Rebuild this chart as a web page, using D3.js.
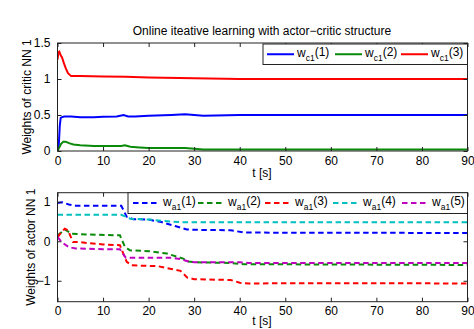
<!DOCTYPE html>
<html><head><meta charset="utf-8">
<script src="https://cdn.jsdelivr.net/npm/d3@7"></script>
<style>
body{margin:0;background:#fff;}
svg text{font-family:"Liberation Sans",Arial,Helvetica,sans-serif;fill:#000;}
</style></head>
<body>
<svg id="c" width="474" height="329"></svg>
<script>
// ---- data ----
const title = "Online iteative learning with actor\u2212critic structure";
const xTicks = [0,10,20,30,40,50,60,70,80,90];
const critTicks = [0,0.5,1,1.5];
const actTicks = [-1,0,1];

const wc1_1_t = [0,0.3,0.5,0.7,1.0,1.5,3,5,8,10,13,14.5,15.5,17,20,25,28,30,32,40,50,90];
const wc1_1_v = [0,0.1,0.35,0.46,0.47,0.48,0.48,0.47,0.47,0.475,0.48,0.5,0.48,0.48,0.49,0.5,0.51,0.5,0.49,0.5,0.5,0.5];
const wc1_2_t = [0,0.4,0.8,1.3,1.8,2.5,3.5,5,8,10,14,14.8,16,18,20,25,28,30,32,40,90];
const wc1_2_v = [0,0.05,0.1,0.13,0.13,0.11,0.09,0.08,0.07,0.07,0.07,0.08,0.06,0.05,0.04,0.04,0.04,0.03,0.02,0.02,0.02];
const wc1_3_t = [0,0.2,0.4,0.7,1.0,1.4,1.8,2.3,3,5,10,15,20,30,40,90];
const wc1_3_v = [1.27,1.37,1.38,1.33,1.3,1.22,1.15,1.08,1.04,1.04,1.035,1.03,1.02,1.01,1.0,1.0];

const wa1_1_t = [0,1,2.5,4,14,15.2,16.6,20,23,26,28.4,30,38,41,90];
const wa1_1_v = [0.97,0.99,0.93,0.9,0.9,0.62,0.56,0.55,0.48,0.38,0.3,0.29,0.28,0.22,0.21];
const wa1_2_t = [0,0.8,1.6,3.1,5,12.6,13.7,14.8,15.9,20,24,27.6,28.7,30,38,41,90];
const wa1_2_v = [0.15,0.22,0.3,0.19,0.18,0.15,0.15,-0.14,-0.23,-0.25,-0.31,-0.44,-0.51,-0.53,-0.55,-0.58,-0.6];
const wa1_3_t = [0,0.8,1.6,2.3,3.4,5,7,10,13.7,14.4,15.2,16.3,22,25,27,28.5,30,38,40,42,50,70,90];
const wa1_3_v = [0.1,0.22,0.32,0.28,-0.02,-0.02,-0.05,-0.08,-0.1,-0.3,-0.52,-0.61,-0.63,-0.7,-0.75,-0.92,-0.96,-0.98,-1.05,-1.07,-1.06,-1.06,-1.07];
const wa1_4_t = [0,14,16,20,23,25,28,30,90];
const wa1_4_v = [0.67,0.67,0.57,0.55,0.52,0.5,0.48,0.48,0.48];
const wa1_5_t = [0,0.9,2.5,4,10,13.7,15,25,27,29,30,40,42,90];
const wa1_5_v = [0.11,-0.02,-0.15,-0.18,-0.2,-0.2,-0.42,-0.42,-0.45,-0.52,-0.53,-0.53,-0.55,-0.55];

const critNames = ["(1)","(2)","(3)"];
const actNames = ["(1)","(2)","(3)","(4)","(5)"];
const critColors = ["#0000ff","#0a8a0a","#ff0000"];
const actColors = ["#0000ff","#0a8a0a","#ff0000","#00bfbf","#bf00bf"];

// ---- drawing ----
const svg = d3.select("#c");
const L = 57.5, R = 467.5;
const x = d3.scaleLinear().domain([0,90]).range([L,R]);

function zip(t,v){return t.map((d,i)=>[d,v[i]]);}

function panel(top,bottom,domain,ticks,fmt,ylabel,ylabelX,xlabelOff,series,colors,dashed){
  const y = d3.scaleLinear().domain(domain).range([bottom,top]);
  const g = svg.append("g");
  const line = d3.line().x(d=>x(d[0])).y(d=>y(d[1]));
  const clipId = "clip"+Math.round(top);
  svg.append("clipPath").attr("id",clipId).append("rect").attr("x",L).attr("y",top).attr("width",R-L).attr("height",bottom-top);
  series.forEach((s,i)=>{
    g.append("path").attr("d",line(s)).attr("fill","none").attr("stroke",colors[i])
     .attr("stroke-width",2).attr("clip-path","url(#"+clipId+")")
     .attr("stroke-dasharray",dashed?"5.5,3.5":null);
  });
  g.append("rect").attr("x",L).attr("y",top).attr("width",R-L).attr("height",bottom-top)
   .attr("fill","none").attr("stroke","#222").attr("stroke-width",1);
  const xa = d3.axisBottom(x).tickValues(xTicks).tickSize(-4).tickPadding(7).tickFormat(d3.format("d"));
  const gx = g.append("g").attr("transform","translate(0,"+bottom+")").call(xa);
  const xt = d3.axisTop(x).tickValues(xTicks).tickSize(-4).tickFormat("");
  const gxt = g.append("g").attr("transform","translate(0,"+top+")").call(xt);
  const ya = d3.axisLeft(y).tickValues(ticks).tickSize(-4).tickPadding(7).tickFormat(fmt);
  const gy = g.append("g").attr("transform","translate("+L+",0)").call(ya);
  const yr = d3.axisRight(y).tickValues(ticks).tickSize(-4).tickFormat("");
  const gyr = g.append("g").attr("transform","translate("+R+",0)").call(yr);
  [gx,gxt,gy,gyr].forEach(a=>{a.select(".domain").remove();a.selectAll("line").attr("stroke","#222");
    a.selectAll("text").attr("font-size",12).attr("font-family","Liberation Sans, Arial, sans-serif").attr("fill","#000");});
  gx.selectAll("text").attr("dy","0.55em");
  g.append("text").attr("x",262).attr("y",bottom+xlabelOff).attr("text-anchor","middle").attr("font-size",12).text("t [s]");
  g.append("text").attr("transform","translate("+ylabelX+","+((top+bottom)/2)+") rotate(-90)")
   .attr("text-anchor","middle").attr("font-size",12).text(ylabel);
  return y;
}

panel(43,151,[0,1.5],critTicks,d=>d3.format("")(d),"Weights of critic NN 1",31,26,
  [zip(wc1_1_t,wc1_1_v),zip(wc1_2_t,wc1_2_v),zip(wc1_3_t,wc1_3_v)],critColors,false);
panel(192.7,301.7,[-1.53,1.23],actTicks,d=>d<0?"\u2212"+Math.abs(d):String(d),"Weights of actor NN 1",35,23,
  [zip(wa1_1_t,wa1_1_v),zip(wa1_2_t,wa1_2_v),zip(wa1_3_t,wa1_3_v),zip(wa1_4_t,wa1_4_v),zip(wa1_5_t,wa1_5_v)],actColors,true);

svg.append("text").attr("x",262).attr("y",35).attr("text-anchor","middle").attr("font-size",12).text(title);

function legend(x0,x1,y0,y1,names,sub,colors,starts,dashed){
  const g = svg.append("g");
  g.append("rect").attr("x",x0).attr("y",y0).attr("width",x1-x0).attr("height",y1-y0)
   .attr("fill","#fff").attr("stroke","#222").attr("stroke-width",1);
  const cy = (y0+y1)/2;
  names.forEach((n,i)=>{
    const sx = starts[i];
    g.append("line").attr("x1",sx).attr("x2",sx+27).attr("y1",cy).attr("y2",cy)
     .attr("stroke",colors[i]).attr("stroke-width",2).attr("stroke-dasharray",dashed?"5.5,3.5":null);
    const t = g.append("text").attr("x",sx+30).attr("y",cy+3).attr("font-size",12);
    t.append("tspan").text("w");
    t.append("tspan").attr("font-size",8.5).attr("dy",4).text(sub);
    t.append("tspan").attr("dy",-5).text(n);
  });
}
legend(263,467.5,44,64.5,critNames,"c1",critColors,[267,335,401],false);
legend(128,467.5,192.7,213.5,actNames,"a1",actColors,[133,198,265,333,402],true);
</script>
</body></html>
